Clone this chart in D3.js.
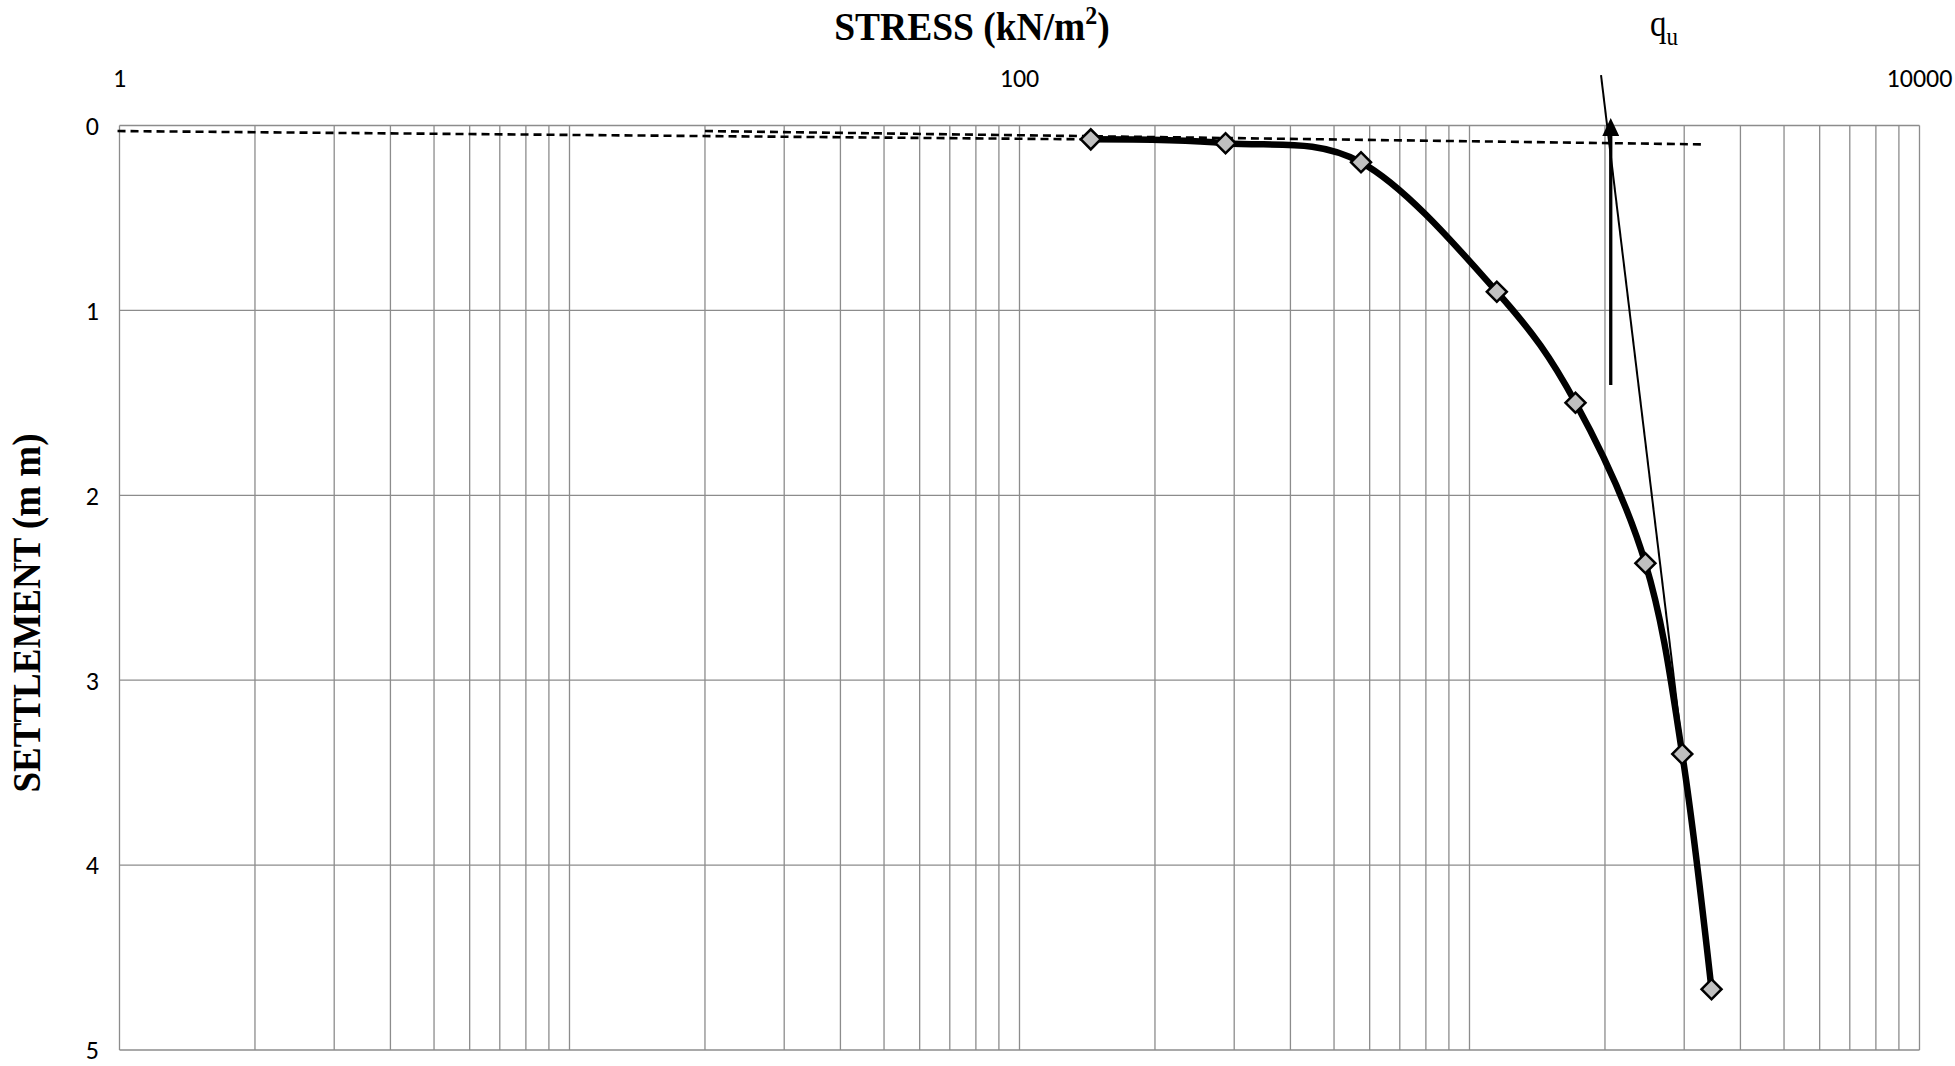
<!DOCTYPE html>
<html>
<head>
<meta charset="utf-8">
<script src="https://cdn.jsdelivr.net/npm/d3@7"></script>
<style>
  body { margin: 0; background: #fff; }
  svg { display: block; }
</style>
</head>
<body>
<div id="chart"></div>
<script>
// plate load test readings
let stress = [144, 287, 574, 1150, 1720, 2460, 2970, 3450];
let settlement = [0.075, 0.096, 0.199, 0.899, 1.499, 2.368, 3.399, 4.672];

// axis labels
let xTickLabels = [1, 100, 10000];
let yTickLabels = [0, 1, 2, 3, 4, 5];

// construction lines (stress, settlement)
let dashA = [[0.99, 0.03], [144, 0.075]];
let dashB = [[20, 0.03], [3280, 0.102]];
let tangent = [[1960, -0.273], [3450, 4.672]];
let arrow = [[2060, 1.403], [2060, -0.04]];

let width = 1955;
let height = 1066;

let svg = d3.select("#chart")
  .append("svg")
  .attr("width", width)
  .attr("height", height);

let x = d3.scaleLog()
  .domain([1, 10000])
  .range([119.5, 1919.5]);

let y = d3.scaleLinear()
  .domain([0, 5])
  .range([125.5, 1050]);

// grid
svg.append("g")
  .selectAll("line")
  .data(x.ticks())
  .enter()
  .append("line")
  .attr("x1", d => x(d)).attr("x2", d => x(d))
  .attr("y1", y(0)).attr("y2", y(5))
  .attr("stroke", "#8c8c8c")
  .attr("stroke-width", 1.3);

svg.append("g")
  .selectAll("line")
  .data(yTickLabels)
  .enter()
  .append("line")
  .attr("x1", x(1)).attr("x2", x(10000))
  .attr("y1", d => y(d)).attr("y2", d => y(d))
  .attr("stroke", "#8c8c8c")
  .attr("stroke-width", 1.3);

// tick labels
let tickFont = "Carlito, Lato, 'Open Sans', sans-serif";

svg.append("g")
  .selectAll("text")
  .data(xTickLabels)
  .enter()
  .append("text")
  .attr("x", d => x(d))
  .attr("y", 87)
  .attr("text-anchor", "middle")
  .attr("font-family", tickFont)
  .attr("font-size", 26)
  .text(d => d);

svg.append("g")
  .selectAll("text")
  .data(yTickLabels)
  .enter()
  .append("text")
  .attr("x", 99)
  .attr("y", d => y(d))
  .attr("dy", "0.36em")
  .attr("text-anchor", "end")
  .attr("font-family", tickFont)
  .attr("font-size", 26)
  .text(d => d);

// axis titles (slightly tall, like the original)
let serif = "'Liberation Serif', 'Times New Roman', serif";

let title = svg.append("text")
  .attr("transform", "translate(972,39.5) scale(1,1.08)")
  .attr("text-anchor", "middle")
  .attr("font-family", serif)
  .attr("font-weight", "bold")
  .attr("font-size", 37.5);
title.append("tspan").text("STRESS (kN/m");
title.append("tspan").attr("font-size", 24).attr("dy", -14).text("2");
title.append("tspan").attr("dy", 14).text(")");

svg.append("text")
  .attr("transform", "translate(40,613) rotate(-90) scale(1,1.08)")
  .attr("text-anchor", "middle")
  .attr("font-family", serif)
  .attr("font-weight", "bold")
  .attr("font-size", 37)
  .text("SETTLEMENT (m m)");

// dashed lines
let straight = d3.line()
  .x(d => x(d[0]))
  .y(d => y(d[1]));

[dashA, dashB].forEach(seg => {
  svg.append("path")
    .attr("d", straight(seg))
    .attr("fill", "none")
    .attr("stroke", "#000")
    .attr("stroke-width", 2.6)
    .attr("stroke-dasharray", "8,5");
});

// tangent line
svg.append("path")
  .attr("d", straight(tangent))
  .attr("fill", "none")
  .attr("stroke", "#000")
  .attr("stroke-width", 2);

// q_u arrow
svg.append("defs").append("marker")
  .attr("id", "head")
  .attr("markerUnits", "userSpaceOnUse")
  .attr("viewBox", "0 0 18 17")
  .attr("refX", 10).attr("refY", 8.5)
  .attr("markerWidth", 18).attr("markerHeight", 17)
  .attr("orient", "auto")
  .append("path")
  .attr("d", "M0,0 L18,8.5 L0,17 Z")
  .attr("fill", "#000");

svg.append("line")
  .attr("x1", x(arrow[0][0])).attr("y1", y(arrow[0][1]))
  .attr("x2", x(arrow[1][0])).attr("y2", y(arrow[1][1]) + 8)
  .attr("stroke", "#000")
  .attr("stroke-width", 3.3)
  .attr("marker-end", "url(#head)");

let qu = svg.append("text")
  .attr("transform", "translate(1650,36) scale(1,1.12)")
  .attr("font-family", serif)
  .attr("font-size", 33);
qu.append("tspan").text("q");
qu.append("tspan").attr("font-size", 23).attr("dy", 8).text("u");

// settlement curve
let points = stress.map((s, i) => [s, settlement[i]]);

let curve = d3.line()
  .x(d => x(d[0]))
  .y(d => y(d[1]))
  .curve(d3.curveCardinal.tension(0));

svg.append("path")
  .attr("d", curve(points))
  .attr("fill", "none")
  .attr("stroke", "#000")
  .attr("stroke-width", 6.5)
  .attr("stroke-linejoin", "round");

svg.append("g")
  .selectAll("path")
  .data(points)
  .enter()
  .append("path")
  .attr("d", d3.symbol().type(d3.symbolSquare).size(200))
  .attr("transform", d => "translate(" + x(d[0]) + "," + y(d[1]) + ") rotate(45)")
  .attr("fill", "#c0c0c0")
  .attr("stroke", "#000")
  .attr("stroke-width", 2.5);
</script>
</body>
</html>
